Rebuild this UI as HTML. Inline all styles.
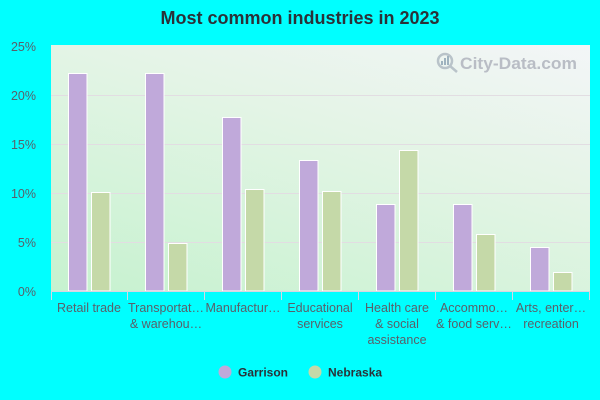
<!DOCTYPE html>
<html><head><meta charset="utf-8"><style>
html,body{margin:0;padding:0;background:#00ffff;}
svg{display:block;}
text{font-family:"Liberation Sans",Arial,sans-serif;}
</style></head><body>
<svg width="600" height="400" viewBox="0 0 600 400" xmlns="http://www.w3.org/2000/svg">
<defs>
<linearGradient id="bg" x1="0" y1="1" x2="0.85" y2="-0.3">
<stop offset="0" stop-color="#c6f2cf"/>
<stop offset="0.55" stop-color="#e4f4e6"/>
<stop offset="1" stop-color="#f8f6fd"/>
</linearGradient>
</defs>
<rect x="0" y="0" width="600" height="400" fill="#00ffff"/>
<text x="300" y="24" text-anchor="middle" font-size="18" font-weight="bold" fill="#2b3138">Most common industries in 2023</text>
<rect x="51" y="45" width="539" height="246" fill="url(#bg)"/>
<g stroke="#e2dde2" stroke-width="1">
<line x1="51" y1="95.5" x2="590" y2="95.5"/>
<line x1="51" y1="144.5" x2="590" y2="144.5"/>
<line x1="51" y1="193.5" x2="590" y2="193.5"/>
<line x1="51" y1="242.5" x2="590" y2="242.5"/>
</g>
<g font-size="12.5" fill="#59606a" text-anchor="end">
<text x="36" y="51">25%</text>
<text x="36" y="100">20%</text>
<text x="36" y="149">15%</text>
<text x="36" y="198">10%</text>
<text x="36" y="247">5%</text>
<text x="36" y="296">0%</text>
</g>
<g font-weight="bold" fill="#b9bdc5">
<circle cx="445" cy="61" r="7" fill="none" stroke="#b9c3c9" stroke-width="2.5"/>
<line x1="450" y1="66" x2="457" y2="72" stroke="#b9c3c9" stroke-width="2.5"/>
<rect x="441" y="61" width="2" height="4" fill="#9fb3bf"/>
<rect x="444" y="58" width="2" height="7" fill="#9fb3bf"/>
<rect x="447" y="56" width="2" height="9" fill="#9fb3bf"/>
<text x="460" y="69" font-size="17" textLength="117" lengthAdjust="spacingAndGlyphs">City-Data.com</text>
</g>
<g stroke="#ffffff" stroke-width="1">
<rect x="68.5" y="73.5" width="18.5" height="217.5" fill="#c0a9da"/>
<rect x="91.5" y="192.5" width="18.5" height="98.5" fill="#c5d9a8"/>
<rect x="145.5" y="73.5" width="18.5" height="217.5" fill="#c0a9da"/>
<rect x="168.5" y="243.5" width="18.5" height="47.5" fill="#c5d9a8"/>
<rect x="222.5" y="117.5" width="18.5" height="173.5" fill="#c0a9da"/>
<rect x="245.5" y="189.5" width="18.5" height="101.5" fill="#c5d9a8"/>
<rect x="299.5" y="160.5" width="18.5" height="130.5" fill="#c0a9da"/>
<rect x="322.5" y="191.5" width="18.5" height="99.5" fill="#c5d9a8"/>
<rect x="376.5" y="204.5" width="18.5" height="86.5" fill="#c0a9da"/>
<rect x="399.5" y="150.5" width="18.5" height="140.5" fill="#c5d9a8"/>
<rect x="453.5" y="204.5" width="18.5" height="86.5" fill="#c0a9da"/>
<rect x="476.5" y="234.5" width="18.5" height="56.5" fill="#c5d9a8"/>
<rect x="530.5" y="247.5" width="18.5" height="43.5" fill="#c0a9da"/>
<rect x="553.5" y="272.5" width="18.5" height="18.5" fill="#c5d9a8"/>
</g>
<g stroke="#d6d6e2" stroke-width="1">
<line x1="51" y1="291.5" x2="590" y2="291.5"/>
<line x1="51.5" y1="291" x2="51.5" y2="300"/>
<line x1="127.5" y1="291" x2="127.5" y2="300"/>
<line x1="204.5" y1="291" x2="204.5" y2="300"/>
<line x1="281.5" y1="291" x2="281.5" y2="300"/>
<line x1="358.5" y1="291" x2="358.5" y2="300"/>
<line x1="435.5" y1="291" x2="435.5" y2="300"/>
<line x1="512.5" y1="291" x2="512.5" y2="300"/>
<line x1="589.5" y1="291" x2="589.5" y2="300"/>
</g>
<g font-size="12.5" fill="#59606a" text-anchor="middle">
<text x="89" y="312">Retail trade</text>
<text x="166" y="312">Transportat…</text>
<text x="166" y="328">&amp; warehou…</text>
<text x="243" y="312">Manufactur…</text>
<text x="320" y="312">Educational</text>
<text x="320" y="328">services</text>
<text x="397" y="312">Health care</text>
<text x="397" y="328">&amp; social</text>
<text x="397" y="344">assistance</text>
<text x="474" y="312">Accommo…</text>
<text x="474" y="328">&amp; food serv…</text>
<text x="551" y="312">Arts, enter…</text>
<text x="551" y="328">recreation</text>
</g>
<circle cx="225" cy="372" r="6.5" fill="#c0a9da"/>
<text x="238" y="376.5" font-size="12" font-weight="bold" fill="#2b3138">Garrison</text>
<circle cx="315" cy="372" r="6.5" fill="#c5d9a8"/>
<text x="328" y="376.5" font-size="12" font-weight="bold" fill="#2b3138">Nebraska</text>
</svg>
</body></html>
